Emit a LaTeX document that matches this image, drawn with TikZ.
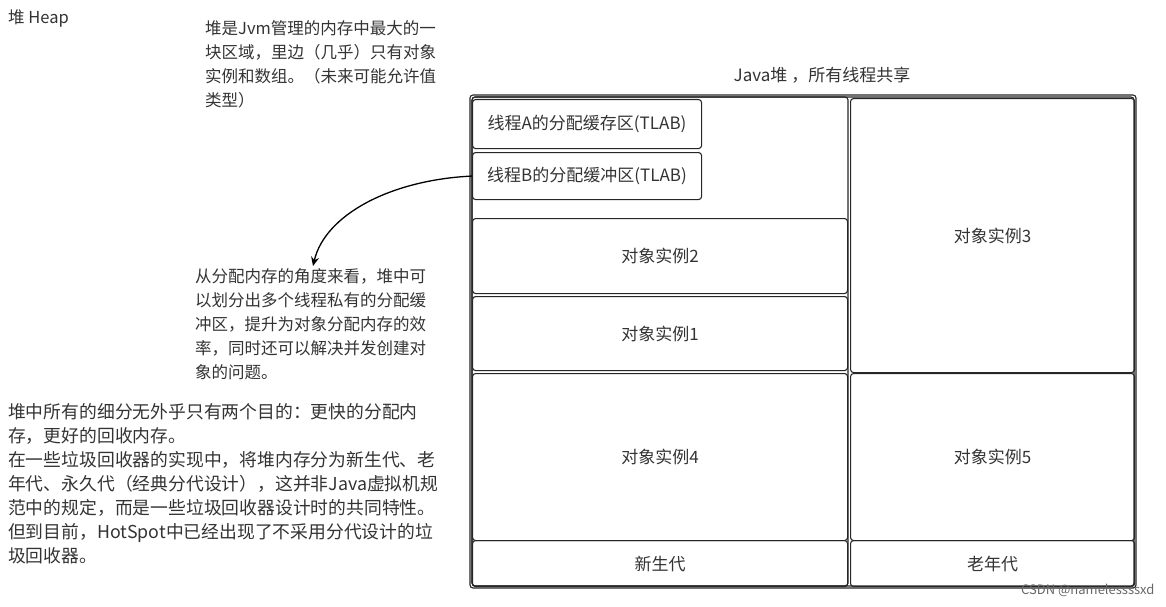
\documentclass[tikz,border=0pt]{standalone}
\usepackage{fontspec}
\usetikzlibrary{arrows.meta}
\setmainfont{Noto Sans CJK SC}
\begin{document}
\begin{tikzpicture}[x=1pt,y=-1pt,
  box/.style={draw=black!85,line width=1.1pt,rounded corners=3pt},
  lbl/.style={font=\fontsize{17}{18}\selectfont,text=black!80},
  para/.style={font=\fontsize{16.5}{24}\selectfont,text=black!80,align=left,anchor=north west,inner sep=0pt}]
\useasboundingbox (0,0) rectangle (1166,607);
\node[para] (heap) at (8,10) {堆 Heap};
\node[para] (top) at (205,20) {堆是Jvm管理的内存中最大的一\\块区域，里边（几乎）只有对象\\实例和数组。（未来可能允许值\\类型）};
\node[lbl] (title) at (822,75) {Java堆 ，所有线程共享};
\draw[box] (470,95) rectangle (1136,588);
\draw[box] (472,97) rectangle (1134,586);
\draw[box] (472,97) rectangle (848,586);
\node[box,minimum width=229,minimum height=49,anchor=north west,lbl] (ta) at (472,99) {线程A的分配缓存区(TLAB)};
\node[box,minimum width=229,minimum height=47,anchor=north west,lbl] (tb) at (472,152) {线程B的分配缓冲区(TLAB)};
\node[box,minimum width=375,minimum height=75,anchor=north west,lbl] (o2) at (472,218) {对象实例2};
\node[box,minimum width=375,minimum height=74,anchor=north west,lbl] (o1) at (472,296) {对象实例1};
\node[box,minimum width=375,minimum height=167,anchor=north west,lbl] (o4) at (472,373) {对象实例4};
\node[box,minimum width=375,minimum height=46,anchor=north west,lbl] (ny) at (472,540) {新生代};
\node[box,minimum width=284,minimum height=274,anchor=north west,lbl] (o3) at (850,98) {对象实例3};
\node[box,minimum width=284,minimum height=167,anchor=north west,lbl] (o5) at (850,373) {对象实例5};
\node[box,minimum width=284,minimum height=46,anchor=north west,lbl] (old) at (850,540) {老年代};
\coordinate (tip) at (313,266);
\draw[line width=1.3pt,-{Stealth[length=9pt,width=8pt]}] (tb.west) .. controls (390,180) and (325,215) .. (tip);
\node[para] (mid) at (195,268) {从分配内存的角度来看，堆中可\\以划分出多个线程私有的分配缓\\冲区，提升为对象分配内存的效\\率，同时还可以解决并发创建对\\象的问题。};
\node[para,font=\fontsize{17.8}{24}\selectfont] (bot) at (8,403) {堆中所有的细分无外乎只有两个目的：更快的分配内\\存，更好的回收内存。\\在一些垃圾回收器的实现中，将堆内存分为新生代、老\\年代、永久代（经典分代设计），这并非Java虚拟机规\\范中的规定，而是一些垃圾回收器设计时的共同特性。\\但到目前，HotSpot中已经出现了不采用分代设计的垃\\圾回收器。};
\node[font=\fontsize{13}{15}\selectfont,text=black!60,anchor=south east] (wm) at (1158,600) {CSDN @namelessssxd};
\end{tikzpicture}
\end{document}
